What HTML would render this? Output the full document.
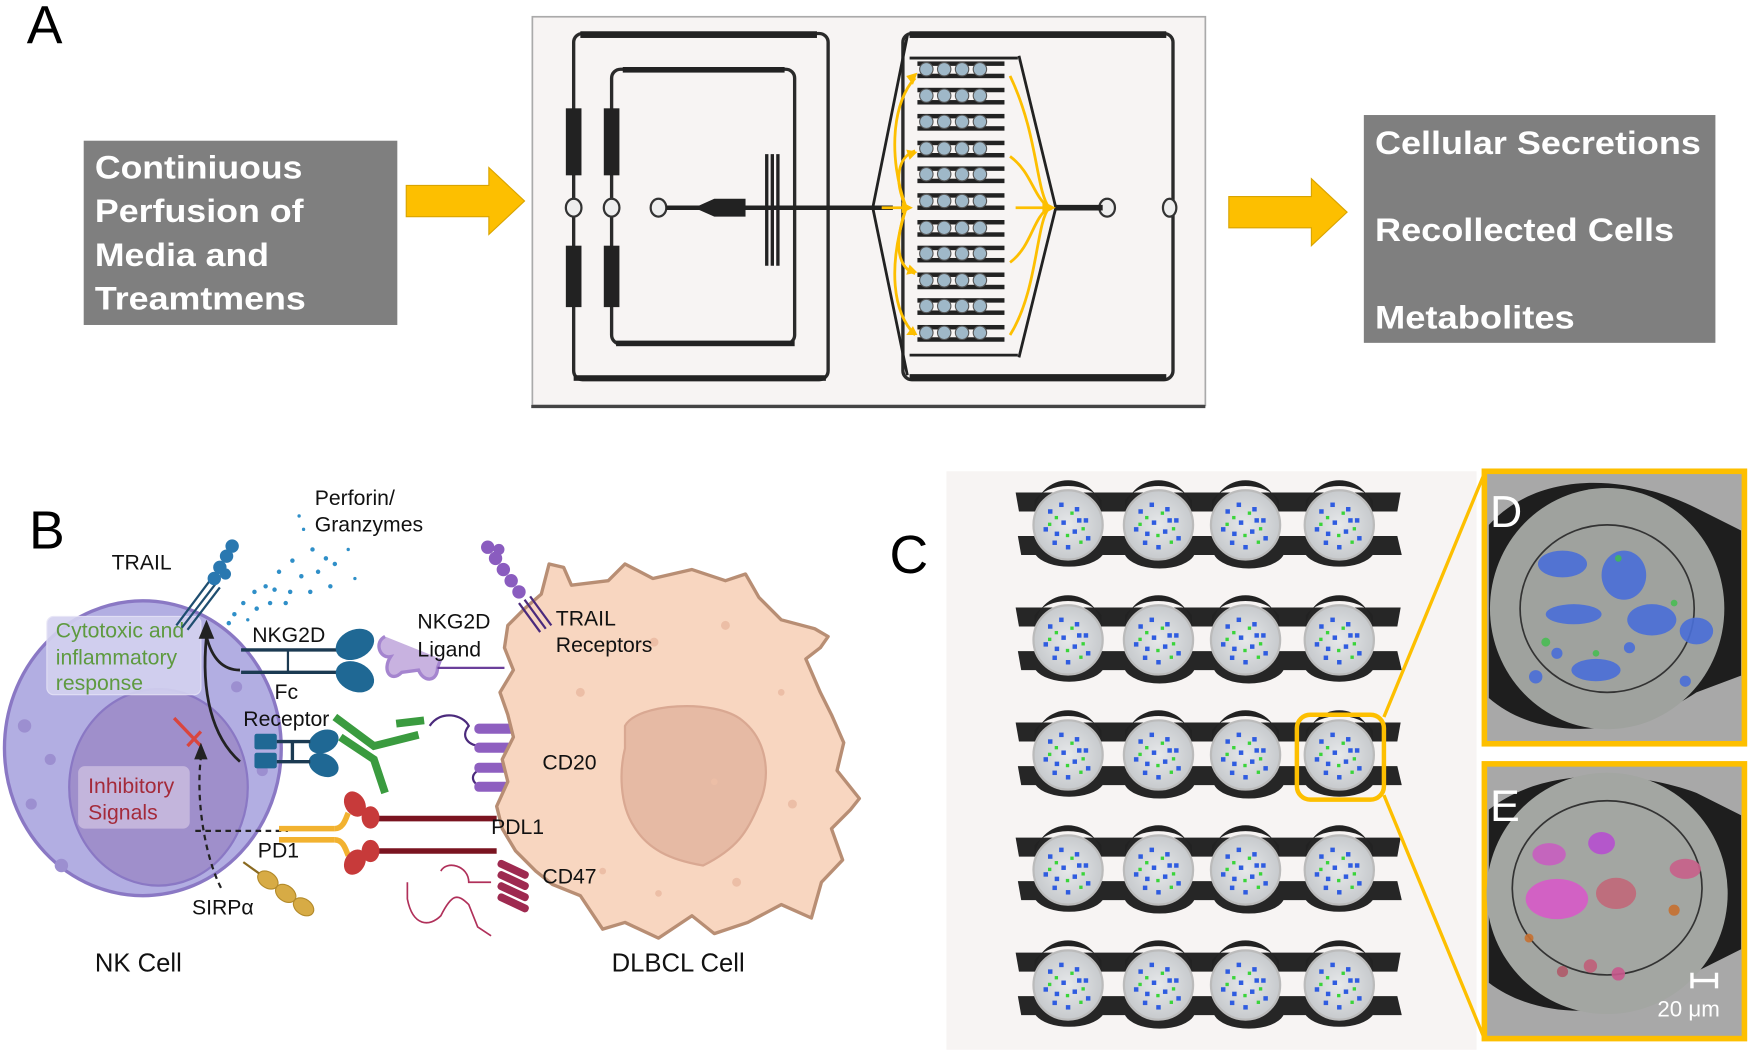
<!DOCTYPE html>
<html><head><meta charset="utf-8"><style>
html,body{margin:0;padding:0;background:#fff;}
svg{display:block;}
text{font-family:"Liberation Sans",sans-serif;}
</style></head><body>
<svg width="1750" height="1052" viewBox="0 0 1568 942" preserveAspectRatio="none" xmlns="http://www.w3.org/2000/svg">
<defs>
 <g id="crow">
  <rect x="822" y="-7" width="78" height="4" fill="#222"/>
  <rect x="822" y="4" width="78" height="4" fill="#222"/>
  <circle cx="830" cy="0" r="6" fill="#9fb8c8" stroke="#555" stroke-width="1"/>
  <circle cx="846" cy="0" r="6" fill="#9fb8c8" stroke="#555" stroke-width="1"/>
  <circle cx="862" cy="0" r="6" fill="#9fb8c8" stroke="#555" stroke-width="1"/>
  <circle cx="878" cy="0" r="6" fill="#9fb8c8" stroke="#555" stroke-width="1"/>
 </g>
 <radialGradient id="wg" cx="50%" cy="50%" r="50%"><stop offset="0" stop-color="#e6e8ea"/><stop offset="1" stop-color="#c7cacd"/></radialGradient>
 <g id="well">
  <path d="M-30,-10 A30,30 0 0 1 30,-10 L30,-22 A33,22 0 0 0 -30,-22 Z" fill="#222"/>
  <circle cx="0" cy="0" r="31" fill="url(#wg)" stroke="#bbb" stroke-width="2"/>
  <g fill="#2f5ce0"><rect x="-18" y="-14" width="4" height="4"/><rect x="-8" y="-20" width="4" height="4"/><rect x="6" y="-16" width="4" height="4"/><rect x="14" y="-6" width="4" height="4"/><rect x="-22" y="2" width="4" height="4"/><rect x="-6" y="-4" width="4" height="4"/><rect x="4" y="4" width="4" height="4"/><rect x="16" y="10" width="4" height="4"/><rect x="-14" y="14" width="4" height="4"/><rect x="-2" y="18" width="4" height="4"/><rect x="8" y="-6" width="4" height="4"/><rect x="-12" y="6" width="4" height="4"/></g>
  <g fill="#3ad43a"><rect x="-12" y="-8" width="3" height="3"/><rect x="2" y="-12" width="3" height="3"/><rect x="-2" y="8" width="3" height="3"/><rect x="10" y="14" width="3" height="3"/><rect x="-18" y="-2" width="3" height="3"/><rect x="12" y="2" width="3" height="3"/></g>
 </g>
 <g id="wrow">
  <path d="M910,-29 L1255,-29 L1252,-12 L913,-12 Z" fill="#262626"/>
  <path d="M912,10 L1252,10 L1256,27 L1230,27 A32,16 0 0 1 1170,27 L1150,27 A32,16 0 0 1 1088,27 L1070,27 A32,16 0 0 1 1008,27 L988,27 A32,16 0 0 1 928,27 L915,27 Z" fill="#262626"/>
  <use href="#well" x="957" y="0"/><use href="#well" x="1038" y="0"/><use href="#well" x="1116" y="0"/><use href="#well" x="1200" y="0"/>
 </g>
</defs>

<!-- PANEL A -->
<text x="24" y="39" font-size="48" fill="#000">A</text>
<rect x="75" y="126" width="281" height="165" fill="#7f7f7f"/>
<g font-size="29" font-weight="bold" fill="#fff">
<text x="85" y="160" textLength="186" lengthAdjust="spacingAndGlyphs">Continiuous</text><text x="85" y="199" textLength="187" lengthAdjust="spacingAndGlyphs">Perfusion of</text><text x="85" y="238" textLength="156" lengthAdjust="spacingAndGlyphs">Media and</text><text x="85" y="277" textLength="189" lengthAdjust="spacingAndGlyphs">Treamtmens</text></g>
<polygon points="364,166 438,166 438,150 470,180 438,210 438,194 364,194" fill="#fdbf00" stroke="#d9a400" stroke-width="1"/>
<polygon points="1101,176 1175,176 1175,160 1207,190 1175,220 1175,204 1101,204" fill="#fdbf00" stroke="#d9a400" stroke-width="1"/>
<rect x="1222" y="103" width="315" height="204" fill="#7f7f7f"/>
<g font-size="29" font-weight="bold" fill="#fff">
<text x="1232" y="138" textLength="292" lengthAdjust="spacingAndGlyphs">Cellular Secretions</text><text x="1232" y="216" textLength="268" lengthAdjust="spacingAndGlyphs">Recollected Cells</text><text x="1232" y="294" textLength="179" lengthAdjust="spacingAndGlyphs">Metabolites</text></g>

<!-- chip -->
<rect x="477" y="15" width="603" height="348" fill="#f7f4f3" stroke="#aaa" stroke-width="1.5"/>
<line x1="476" y1="364" x2="1080" y2="364" stroke="#444" stroke-width="3"/>
<g fill="none" stroke="#2a2a2a" stroke-width="3">
 <rect x="514" y="30" width="228" height="310" rx="8"/>
 <rect x="548" y="62" width="164" height="246" rx="8"/>
 <rect x="809" y="30" width="242" height="310" rx="8"/>
</g>
<rect x="520" y="28" width="212" height="6" fill="#222"/>
<rect x="558" y="60" width="145" height="5" fill="#222"/>
<rect x="514" y="336" width="226" height="5" fill="#222"/>
<rect x="552" y="305" width="160" height="5" fill="#222"/>
<rect x="815" y="28" width="230" height="6" fill="#222"/>
<rect x="815" y="335" width="230" height="6" fill="#222"/>
<g fill="#222"><rect x="507" y="97" width="14" height="60"/><rect x="541" y="97" width="14" height="60"/><rect x="507" y="220" width="14" height="55"/><rect x="541" y="220" width="14" height="55"/></g>
<g fill="#eee" stroke="#333" stroke-width="2"><ellipse cx="514" cy="186" rx="7" ry="8"/><ellipse cx="548" cy="186" rx="7" ry="8"/><ellipse cx="590" cy="186" rx="7" ry="8"/><ellipse cx="992" cy="186" rx="7" ry="8"/><ellipse cx="1048" cy="186" rx="6" ry="8"/></g>
<line x1="597" y1="186" x2="800" y2="186" stroke="#222" stroke-width="4"/>
<polygon points="622,186 640,178 668,178 668,194 640,194" fill="#222"/>
<g fill="none" stroke="#222" stroke-width="3"><line x1="687" y1="138" x2="687" y2="238"/><line x1="692" y1="138" x2="692" y2="238"/><line x1="697" y1="138" x2="697" y2="238"/></g>
<g fill="none" stroke="#222" stroke-width="2.5">
 <polyline points="813,32 782,186 813,336"/>
 <polyline points="913,50 946,186 913,320"/>
 <line x1="815" y1="52" x2="912" y2="52"/><line x1="815" y1="318" x2="912" y2="318"/>
</g>
<line x1="946" y1="186" x2="988" y2="186" stroke="#222" stroke-width="5"/>
<use href="#crow" y="62"/><use href="#crow" y="85.6"/><use href="#crow" y="109"/><use href="#crow" y="133"/><use href="#crow" y="156"/><use href="#crow" y="180"/><use href="#crow" y="204"/><use href="#crow" y="227"/><use href="#crow" y="251"/><use href="#crow" y="274"/><use href="#crow" y="298"/>
<g fill="none" stroke="#fdbf00" stroke-width="2.5">
 <path d="M812,186 C795,140 800,90 820,70"/><path d="M812,186 C800,160 805,140 820,135"/>
 <path d="M812,186 C800,220 805,240 820,245"/><path d="M812,186 C795,240 800,280 820,300"/>
 <line x1="790" y1="186" x2="815" y2="186"/>
 <path d="M905,68 C930,120 928,170 940,186"/><path d="M905,140 C925,155 925,175 940,186"/>
 <path d="M905,235 C925,220 925,195 940,186"/><path d="M905,300 C930,260 928,200 940,186"/>
 <line x1="910" y1="186" x2="940" y2="186"/>
</g>
<g fill="#fdbf00"><polygon points="822,65 812,68 818,76"/><polygon points="822,136 812,134 815,143"/><polygon points="822,244 815,237 812,246"/><polygon points="822,300 818,292 812,300"/><polygon points="818,186 808,181 808,191"/><polygon points="946,186 934,180 934,192"/></g>

<!-- PANEL B -->
<text x="26" y="491" font-size="48" fill="#000">B</text>
<ellipse cx="128" cy="670" rx="124" ry="132" fill="#b2aee2" stroke="#8a78c4" stroke-width="3"/>
<g fill="#9c8fd0"><circle cx="22" cy="650" r="6"/><circle cx="45" cy="680" r="5"/><circle cx="28" cy="720" r="5"/><circle cx="55" cy="775" r="6"/><circle cx="235" cy="690" r="5"/><circle cx="212" cy="615" r="5"/></g>
<ellipse cx="142" cy="705" rx="80" ry="88" fill="#9f8fcb" stroke="#8a78c4" stroke-width="2"/>
<rect x="70" y="686" width="100" height="56" rx="6" fill="#c3b5dc"/>
<text x="79" y="710" font-size="19" fill="#a42a3a">Inhibitory</text><text x="79" y="734" font-size="19" fill="#a42a3a">Signals</text>
<rect x="42" y="552" width="138" height="70" rx="6" fill="#d4d2f0" opacity="0.9" stroke="#e6e4f6"/>
<text x="50" y="571" font-size="19" fill="#5e9a40">Cytotoxic and</text><text x="50" y="595" font-size="19" fill="#5e9a40">inflammatory</text><text x="50" y="618" font-size="19" fill="#5e9a40">response</text>
<path d="M215,682 C190,660 180,620 185,570" fill="none" stroke="#222" stroke-width="2.5"/>
<path d="M215,600 C200,600 190,590 185,570" fill="none" stroke="#222" stroke-width="2.5"/>
<polygon points="185,555 178,572 192,572" fill="#222"/>
<path d="M180,668 L192,655 M168,643 L192,668" stroke="#d9453e" stroke-width="3" transform="translate(-12,0)"/>
<path d="M198,795 C185,770 175,720 180,678" fill="none" stroke="#222" stroke-width="2" stroke-dasharray="5,4"/>
<polygon points="180,665 174,680 186,680" fill="#222"/>
<line x1="175" y1="744" x2="258" y2="744" stroke="#222" stroke-width="2" stroke-dasharray="5,4"/>
<g stroke="#1e4e70" stroke-width="2"><line x1="158" y1="560" x2="188" y2="520"/><line x1="163" y1="562" x2="193" y2="523"/><line x1="168" y1="564" x2="197" y2="526"/></g>
<g fill="#2a78b0"><circle cx="192" cy="518" r="6"/><circle cx="197" cy="508" r="6"/><circle cx="203" cy="498" r="6"/><circle cx="208" cy="489" r="6"/><circle cx="202" cy="514" r="5"/></g>
<g fill="#2f8fc8"><circle cx="268" cy="462" r="1.5"/><circle cx="272" cy="474" r="1.5"/><circle cx="280" cy="492" r="2"/><circle cx="292" cy="500" r="2"/><circle cx="262" cy="502" r="2"/><circle cx="250" cy="512" r="2"/><circle cx="270" cy="516" r="2"/><circle cx="285" cy="512" r="2"/><circle cx="300" cy="505" r="2"/><circle cx="312" cy="492" r="1.5"/><circle cx="318" cy="518" r="1.5"/><circle cx="238" cy="525" r="2"/><circle cx="228" cy="530" r="2"/><circle cx="246" cy="528" r="2"/><circle cx="260" cy="530" r="2"/><circle cx="278" cy="530" r="2"/><circle cx="296" cy="525" r="2"/><circle cx="218" cy="540" r="2"/><circle cx="230" cy="545" r="2"/><circle cx="210" cy="550" r="2"/><circle cx="205" cy="558" r="2"/><circle cx="242" cy="540" r="2"/><circle cx="256" cy="540" r="2"/><circle cx="222" cy="555" r="1.5"/></g>
<g stroke="#1b3a52" stroke-width="3"><line x1="216" y1="582" x2="306" y2="582"/><line x1="216" y1="602" x2="306" y2="602"/></g>
<line x1="258" y1="582" x2="258" y2="602" stroke="#1b3a52" stroke-width="2"/>
<ellipse cx="318" cy="577" rx="18" ry="13" fill="#1f6894" transform="rotate(-25 318 577)"/>
<ellipse cx="318" cy="606" rx="18" ry="13" fill="#1f6894" transform="rotate(25 318 606)"/>
<path d="M345,570 C335,575 340,590 350,588 C342,600 350,612 360,602 L375,600 C380,612 392,610 392,598 L395,590" fill="#c8b2e0" stroke="#a585cf" stroke-width="3"/>
<line x1="392" y1="598" x2="452" y2="598" stroke="#6a3f9a" stroke-width="2"/>
<g fill="#1f6894"><rect x="228" y="657" width="20" height="14" rx="2"/><rect x="228" y="674" width="20" height="14" rx="2"/><ellipse cx="290" cy="664" rx="14" ry="10" transform="rotate(-25 290 664)"/><ellipse cx="290" cy="685" rx="14" ry="10" transform="rotate(25 290 685)"/></g>
<g stroke="#1b3a52" stroke-width="3"><line x1="248" y1="664" x2="278" y2="664"/><line x1="248" y1="682" x2="278" y2="682"/><line x1="262" y1="664" x2="262" y2="682"/></g>
<g stroke="#3a9b3f" stroke-width="7" fill="none"><polyline points="300,642 335,668 375,658"/><polyline points="305,660 335,680 345,710"/><line x1="355" y1="648" x2="380" y2="645"/></g>
<path d="M385,650 C395,635 415,640 420,650 C412,660 420,668 432,668 M465,653 C480,655 490,660 495,668 M465,670 C478,672 478,685 465,688 M435,688 C420,690 420,703 435,705 M465,705 C480,707 485,712 490,718" fill="none" stroke="#4b2a7c" stroke-width="2"/>
<g fill="#8e5fc0"><rect x="425" y="648" width="42" height="9" rx="4"/><rect x="425" y="665" width="42" height="9" rx="4"/><rect x="425" y="683" width="42" height="9" rx="4"/><rect x="425" y="700" width="42" height="9" rx="4"/></g>
<g stroke="#f2b230" stroke-width="5" fill="none"><line x1="250" y1="742" x2="300" y2="742"/><line x1="250" y1="752" x2="300" y2="752"/><path d="M300,742 C308,742 310,732 312,728 M300,752 C308,752 310,762 312,766"/></g>
<g stroke="#7a1420" stroke-width="5"><line x1="338" y1="733" x2="445" y2="733"/><line x1="338" y1="762" x2="445" y2="762"/></g>
<g fill="#c73a3a"><ellipse cx="318" cy="720" rx="9" ry="12" transform="rotate(-30 318 720)"/><ellipse cx="332" cy="732" rx="8" ry="10"/><ellipse cx="318" cy="772" rx="9" ry="12" transform="rotate(30 318 772)"/><ellipse cx="332" cy="762" rx="8" ry="10"/></g>
<g fill="#d7ab45" stroke="#b38a2a"><ellipse cx="240" cy="788" rx="10" ry="7" transform="rotate(35 240 788)"/><ellipse cx="256" cy="800" rx="10" ry="7" transform="rotate(35 256 800)"/><ellipse cx="272" cy="812" rx="10" ry="7" transform="rotate(35 272 812)"/></g>
<line x1="218" y1="772" x2="232" y2="782" stroke="#8a6a20" stroke-width="2"/>
<polygon points="455,560 470,545 485,532 492,505 505,508 512,524 545,520 560,505 585,518 620,510 650,520 668,514 680,535 700,555 730,563 742,570 735,580 722,590 735,620 745,640 756,665 750,690 770,715 762,725 745,742 755,770 736,790 727,822 700,810 670,826 640,836 620,820 590,840 560,826 540,832 520,802 495,792 480,780 462,762 450,742 445,722 455,700 450,680 460,660 455,640 448,620 460,600 452,580" fill="#f8d6c0" stroke="#b88e74" stroke-width="3" stroke-linejoin="round"/>
<path d="M560,650 C570,630 640,625 665,645 C690,665 690,700 680,720 C670,745 660,760 630,775 C600,770 580,760 568,740 C555,720 555,690 560,670 Z" fill="#e6baa4" stroke="#d9a892" stroke-width="2"/>
<g fill="#ecbea6"><circle cx="586" cy="575" r="4"/><circle cx="650" cy="560" r="4"/><circle cx="700" cy="620" r="3"/><circle cx="640" cy="700" r="3"/><circle cx="710" cy="720" r="4"/><circle cx="590" cy="800" r="3"/><circle cx="660" cy="790" r="4"/><circle cx="520" cy="620" r="4"/><circle cx="540" cy="780" r="3"/></g>
<g stroke="#4b2a7c" stroke-width="2"><line x1="465" y1="540" x2="484" y2="566"/><line x1="470" y1="537" x2="489" y2="563"/><line x1="475" y1="534" x2="494" y2="560"/></g>
<g fill="#8a5cbf"><circle cx="437" cy="490" r="6"/><circle cx="444" cy="500" r="6"/><circle cx="451" cy="510" r="6"/><circle cx="458" cy="520" r="6"/><circle cx="465" cy="530" r="6"/><circle cx="447" cy="492" r="5"/></g>
<path d="M365,790 L365,805 C370,830 385,830 395,820 C405,800 410,800 420,810 L428,830 L440,838" fill="none" stroke="#b0305a" stroke-width="1.5"/>
<path d="M395,780 C400,770 420,775 420,790 L440,790" fill="none" stroke="#b0305a" stroke-width="1.5"/>
<g fill="#9e2a50"><rect x="445" y="775" width="30" height="7" rx="3" transform="rotate(25 460 778)"/><rect x="445" y="785" width="30" height="7" rx="3" transform="rotate(25 460 788)"/><rect x="445" y="795" width="30" height="7" rx="3" transform="rotate(25 460 798)"/><rect x="445" y="805" width="30" height="7" rx="3" transform="rotate(25 460 808)"/></g>
<g font-size="19" fill="#111">
<text x="282" y="452">Perforin/</text><text x="282" y="476">Granzymes</text>
<text x="100" y="510">TRAIL</text>
<text x="226" y="575">NKG2D</text>
<text x="374" y="563">NKG2D</text><text x="374" y="588">Ligand</text>
<text x="498" y="560">TRAIL</text><text x="498" y="584">Receptors</text>
<text x="246" y="626">Fc</text><text x="218" y="650">Receptor</text>
<text x="486" y="689">CD20</text>
<text x="440" y="747">PDL1</text>
<text x="231" y="768">PD1</text>
<text x="486" y="791">CD47</text>
<text x="172" y="819">SIRPα</text>
</g>
<text x="85" y="870" font-size="23" fill="#111">NK Cell</text>
<text x="548" y="870" font-size="23" fill="#111">DLBCL Cell</text>

<!-- PANEL C -->
<rect x="848" y="422" width="475" height="518" fill="#f7f4f3"/>
<text x="797" y="513" font-size="48" fill="#000">C</text>
<use href="#wrow" y="470"/><use href="#wrow" y="573"/><use href="#wrow" y="676"/><use href="#wrow" y="779"/><use href="#wrow" y="882"/>
<rect x="1162" y="640" width="78" height="76" rx="12" fill="none" stroke="#fdbf00" stroke-width="4"/>
<line x1="1240" y1="642" x2="1330" y2="424" stroke="#fdbf00" stroke-width="3"/>
<line x1="1240" y1="712" x2="1330" y2="930" stroke="#fdbf00" stroke-width="3"/>

<!-- D -->
<rect x="1330" y="422" width="233" height="244" fill="#a8a8a8" stroke="#fdbf00" stroke-width="5"/>
<path d="M1334,470 C1380,420 1460,425 1520,455 L1560,475 L1560,605 L1520,620 C1460,660 1380,665 1334,625 Z" fill="#1e1e1e"/>
<ellipse cx="1440" cy="545" rx="105" ry="108" fill="#9fa29e"/>
<ellipse cx="1440" cy="545" rx="78" ry="75" fill="none" stroke="#333" stroke-width="1.5"/>
<g fill="#4a6fd8" opacity="0.9"><ellipse cx="1400" cy="505" rx="22" ry="12"/><ellipse cx="1455" cy="515" rx="20" ry="22"/><ellipse cx="1480" cy="555" rx="22" ry="14"/><ellipse cx="1410" cy="550" rx="25" ry="9"/><ellipse cx="1430" cy="600" rx="22" ry="10"/><ellipse cx="1520" cy="565" rx="15" ry="12"/><circle cx="1376" cy="606" r="6"/><circle cx="1395" cy="585" r="5"/><circle cx="1510" cy="610" r="5"/><circle cx="1460" cy="580" r="5"/></g>
<g fill="#3ec04a" opacity="0.8"><circle cx="1385" cy="575" r="4"/><circle cx="1450" cy="500" r="3"/><circle cx="1430" cy="585" r="3"/><circle cx="1500" cy="540" r="3"/></g>
<text x="1335" y="472" font-size="40" fill="#fff">D</text>

<!-- E -->
<rect x="1330" y="684" width="233" height="246" fill="#a8a8a8" stroke="#fdbf00" stroke-width="5"/>
<path d="M1334,725 C1380,688 1460,688 1520,710 L1560,730 L1560,850 L1520,870 C1460,915 1380,915 1334,880 Z" fill="#1e1e1e"/>
<ellipse cx="1440" cy="800" rx="108" ry="108" fill="#a3a6a2"/>
<ellipse cx="1440" cy="795" rx="85" ry="78" fill="none" stroke="#333" stroke-width="1.5"/>
<g opacity="0.9"><ellipse cx="1395" cy="805" rx="28" ry="18" fill="#d85ac8"/><ellipse cx="1388" cy="765" rx="15" ry="10" fill="#c85fc0"/><ellipse cx="1435" cy="755" rx="12" ry="10" fill="#b64fd0"/><ellipse cx="1448" cy="800" rx="18" ry="14" fill="#c2687a"/><ellipse cx="1510" cy="778" rx="14" ry="9" fill="#c8608a"/><circle cx="1425" cy="865" r="6" fill="#c0607a"/><circle cx="1450" cy="872" r="6" fill="#c8588c"/><circle cx="1400" cy="870" r="5" fill="#b05a6a"/><circle cx="1500" cy="815" r="5" fill="#c77030"/><circle cx="1370" cy="840" r="4" fill="#c77030"/></g>
<text x="1335" y="735" font-size="40" fill="#fff">E</text>
<g stroke="#fff" stroke-width="3"><line x1="1516" y1="878" x2="1538" y2="878"/><line x1="1516" y1="871" x2="1516" y2="885"/><line x1="1538" y1="871" x2="1538" y2="885"/></g>
<text x="1485" y="910" font-size="20" fill="#fff">20 μm</text>
</svg>
</body></html>
